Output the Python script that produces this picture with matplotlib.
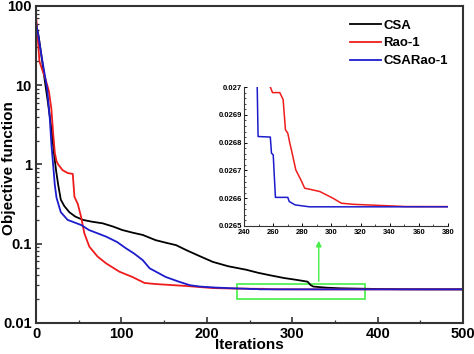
import matplotlib
matplotlib.use("Agg")
import matplotlib.pyplot as plt
from matplotlib.patches import Rectangle
from matplotlib.ticker import MultipleLocator, FuncFormatter, LogLocator, NullFormatter

plt.rcParams['font.family'] = ['Liberation Sans', 'DejaVu Sans']
plt.rcParams['font.weight'] = 'bold'

# ---- data ----
csa_it = [0, 3, 6, 10, 14, 18, 21, 23.4, 26, 29, 33, 39, 46, 55, 65, 78, 90, 101, 113, 125,
          140, 152, 164, 176, 190, 207, 225, 246, 260, 274, 290, 305, 318, 321.6, 324.7, 340,
          356, 382, 400, 430, 460, 500]
csa_val = [60, 42, 25, 12, 6, 2.8, 1.4, 0.85, 0.55, 0.36, 0.3, 0.25, 0.22, 0.2, 0.19, 0.181,
           0.165, 0.149, 0.138, 0.129, 0.111, 0.103, 0.096, 0.083, 0.071, 0.059, 0.052, 0.047,
           0.043, 0.040, 0.037, 0.035, 0.0332, 0.030, 0.0288, 0.0279, 0.0274, 0.02706, 0.02685,
           0.02665, 0.02659, 0.02657]

rao_it = [0, 2, 4, 7, 11, 15, 18, 20, 22, 24, 26, 31, 37, 43, 45, 48.8, 52.7, 56.6, 62.4, 72,
          82, 97.6, 113, 127, 140, 176, 190, 207, 230, 250, 258, 259.5, 264.5, 266.8, 268.4,
          270, 271.4, 272.5, 274, 275.5, 277.8, 279, 281.6, 287, 292, 296.5, 301, 306.8, 315,
          333, 351, 500]
rao_val = [75, 40, 20, 16, 12, 8.5, 5, 2.5, 1.4, 1.1, 1.0, 0.85, 0.78, 0.76, 0.39, 0.32, 0.22,
           0.135, 0.092, 0.069, 0.0566, 0.0444, 0.038, 0.032, 0.031, 0.0293, 0.0285, 0.0276,
           0.0272, 0.02705, 0.02700, 0.02698, 0.02698, 0.026955, 0.026846, 0.026834, 0.026798,
           0.026774, 0.026738, 0.026702, 0.026678, 0.026666, 0.026636, 0.02663, 0.026624,
           0.026612, 0.0266, 0.026582, 0.026578, 0.026574, 0.02657, 0.026569]

hyb_it = [0, 3, 6, 10, 13, 16, 18, 20, 22, 24, 29, 37, 53, 62, 82, 95, 105, 115, 125, 133,
          152, 168, 180, 192, 210, 227, 240, 249, 249.6, 258, 258.8, 260, 261.5, 270, 271, 275,
          280.5, 285, 500]
hyb_val = [62, 40, 25, 14, 9, 4, 1.8, 1.0, 0.55, 0.38, 0.25, 0.2, 0.172, 0.149, 0.123, 0.105,
           0.088, 0.075, 0.062, 0.049, 0.038, 0.033, 0.030, 0.0288, 0.0280, 0.0275, 0.0272,
           0.0270, 0.026822, 0.02682, 0.026762, 0.026756, 0.026603, 0.026603, 0.026588,
           0.026576, 0.026572, 0.026569, 0.026569]

labels = ['CSA', 'Rao-1', 'CSARao-1']
colors = ['black', '#ee1c1c', '#1c1ccc']

fig = plt.figure(figsize=(4.74, 3.54), dpi=100)
ax = fig.add_axes([0.076, 0.0876, 0.901, 0.8955])

series = [(csa_it, csa_val), (rao_it, rao_val), (hyb_it, hyb_val)]
for (x, y), lab, c in zip(series, labels, colors):
    ax.plot(x, y, color=c, lw=1.3, label=lab)

ax.set_yscale('log')
ax.set_xlim(0, 500)
ax.set_ylim(0.01, 100)
ax.xaxis.set_major_locator(MultipleLocator(100))
ax.xaxis.set_minor_locator(MultipleLocator(50))
ax.yaxis.set_major_formatter(FuncFormatter(lambda v, p: '%g' % v))
ax.yaxis.set_minor_locator(LogLocator(base=10, subs=range(2, 10)))
ax.yaxis.set_minor_formatter(NullFormatter())
ax.tick_params(which='both', direction='in', colors='#333333', labelcolor='black')
ax.tick_params(which='major', length=4, width=1.2, labelsize=10.5, pad=3)
ax.tick_params(which='minor', length=2.5, width=0.9)
for s in ax.spines.values():
    s.set_linewidth(1.5)
    s.set_color('#333333')
for t in ax.get_xticklabels() + ax.get_yticklabels():
    t.set_fontweight('bold')
ax.set_xlabel('Iterations', fontsize=11, fontweight='bold', labelpad=-2)
ax.set_ylabel('Objective function', fontsize=11, fontweight='bold')
ax.yaxis.set_label_coords(-0.047, 0.49)

leg = ax.legend(loc='upper right', bbox_to_anchor=(0.945, 0.945), bbox_transform=fig.transFigure,
                frameon=False, fontsize=9.5, handlelength=2.4, handletextpad=0.15,
                labelspacing=0.42, borderpad=0, borderaxespad=0)
for t in leg.get_texts():
    t.set_fontweight('bold')

# zoom box and arrow
ax.add_patch(Rectangle((235, 0.02), 150, 0.011, fill=False, edgecolor='#44ee44', lw=1.2))
ax.annotate('', xy=(331, 0.118), xytext=(331, 0.031),
            arrowprops=dict(arrowstyle='-|>', color='#44ee44', lw=1.0, mutation_scale=8))

# inset
ins = fig.add_axes([0.515, 0.3616, 0.43, 0.3925])
for (x, y), c in zip(series, colors):
    ins.plot(x, y, color=c, lw=1.1)
ins.set_xlim(240, 380)
ins.set_ylim(0.0265, 0.027)
ins.xaxis.set_major_locator(MultipleLocator(20))
ins.xaxis.set_minor_locator(MultipleLocator(10))
ins.yaxis.set_major_locator(MultipleLocator(0.0001))
ins.yaxis.set_minor_locator(MultipleLocator(0.00002))
ins.yaxis.set_major_formatter(FuncFormatter(lambda v, p: '%g' % round(v, 5)))
ins.xaxis.set_major_formatter(FuncFormatter(lambda v, p: '%d' % v))
ins.tick_params(which='both', direction='in', labelsize=5.5)
ins.tick_params(axis='x', pad=2.5)
ins.tick_params(axis='y', pad=1.5)
ins.tick_params(which='major', length=2.5, width=0.7)
ins.tick_params(which='minor', length=1.3, width=0.5)
for t in ins.get_xticklabels() + ins.get_yticklabels():
    t.set_fontweight('bold')
ins.spines['top'].set_visible(False)
ins.spines['right'].set_visible(False)
for s in ['left', 'bottom']:
    ins.spines[s].set_linewidth(0.8)
    ins.spines[s].set_color('#333333')

fig.savefig('out.png', dpi=100)
